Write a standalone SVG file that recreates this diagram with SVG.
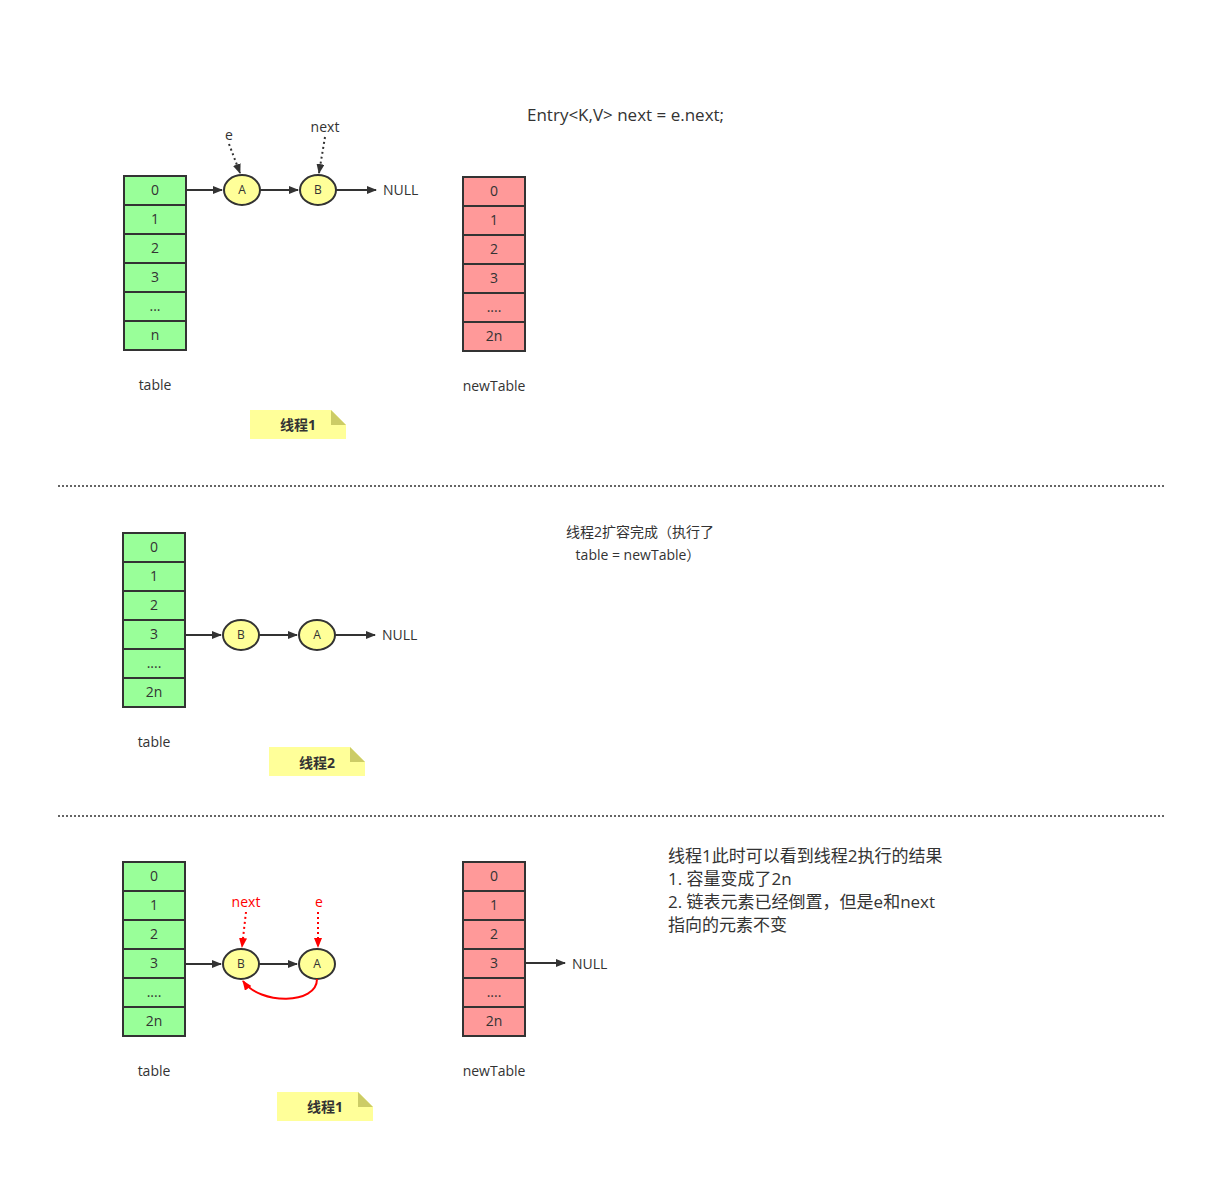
<svg xmlns="http://www.w3.org/2000/svg" width="1230" height="1184" viewBox="0 0 1230 1184">
<style>
text{font-family:"Open Sans","Noto Sans CJK SC",sans-serif;fill:#333;}
.g{fill:#99ff99;stroke:#333;stroke-width:2}
.r{fill:#ff9999;stroke:#333;stroke-width:2}
.c{font-size:14px;text-anchor:middle}
.n{fill:#ffff99;stroke:#333;stroke-width:2}
.nl{font-size:12px;text-anchor:middle}
.e{stroke:#333;stroke-width:2;fill:none;marker-end:url(#ah)}
.d{stroke:#333;stroke-width:2;stroke-dasharray:2 3;fill:none;marker-end:url(#ah)}
.dr{stroke:#f00;stroke-width:2;stroke-dasharray:2 3;fill:none;marker-end:url(#ahr)}
.sep{stroke:#333;stroke-width:1.5;stroke-dasharray:2 2}
.t{font-size:15px}
.note{fill:#ffff99}
.fold{fill:#cccc66}
.nt{font-size:14px;font-weight:bold;text-anchor:middle}
</style>
<defs>
<marker id="ah" markerWidth="10" markerHeight="8" refX="9" refY="4" orient="auto" markerUnits="userSpaceOnUse"><path d="M0,0L10,4L0,8z" fill="#333"/></marker>
<marker id="ahr" markerWidth="10" markerHeight="8" refX="9" refY="4" orient="auto" markerUnits="userSpaceOnUse"><path d="M0,0L10,4L0,8z" fill="#f00"/></marker>
</defs>
<rect width="1230" height="1184" fill="#fff"/>

<g id="table1">
<rect class="g" x="124" y="176" width="62" height="29"/><text class="c" x="155" y="195">0</text>
<rect class="g" x="124" y="205" width="62" height="29"/><text class="c" x="155" y="224">1</text>
<rect class="g" x="124" y="234" width="62" height="29"/><text class="c" x="155" y="253">2</text>
<rect class="g" x="124" y="263" width="62" height="29"/><text class="c" x="155" y="282">3</text>
<rect class="g" x="124" y="292" width="62" height="29"/><text class="c" x="155" y="311">...</text>
<rect class="g" x="124" y="321" width="62" height="29"/><text class="c" x="155" y="340">n</text>
<text class="c" x="155" y="390">table</text>
</g>
<g id="newTable1">
<rect class="r" x="463" y="177" width="62" height="29"/><text class="c" x="494" y="196">0</text>
<rect class="r" x="463" y="206" width="62" height="29"/><text class="c" x="494" y="225">1</text>
<rect class="r" x="463" y="235" width="62" height="29"/><text class="c" x="494" y="254">2</text>
<rect class="r" x="463" y="264" width="62" height="29"/><text class="c" x="494" y="283">3</text>
<rect class="r" x="463" y="293" width="62" height="29"/><text class="c" x="494" y="312">....</text>
<rect class="r" x="463" y="322" width="62" height="29"/><text class="c" x="494" y="341">2n</text>
<text class="c" x="494" y="391">newTable</text>
</g>
<g id="p1A"><ellipse class="n" cx="242" cy="190" rx="18" ry="15"/><text class="nl" x="242" y="194">A</text></g>
<g id="p1B"><ellipse class="n" cx="318" cy="190" rx="18" ry="15"/><text class="nl" x="318" y="194">B</text></g>
<text x="229" y="140" class="c" font-size="16">e</text>
<text x="325" y="132" class="c" font-size="16">next</text>
<text x="383" y="195" font-size="14">NULL</text>
<text x="527" y="121" font-size="17">Entry&lt;K,V&gt; next = e.next;</text>
<g id="note1"><path class="note" d="M250,410H331L346,425V439H250z"/><path class="fold" d="M331,410L346,425H331z"/><text class="nt" x="298" y="430">线程1</text></g>

<line class="sep" x1="58" y1="486" x2="1165" y2="486"/>

<g id="table2">
<rect class="g" x="123" y="533" width="62" height="29"/><text class="c" x="154" y="552">0</text>
<rect class="g" x="123" y="562" width="62" height="29"/><text class="c" x="154" y="581">1</text>
<rect class="g" x="123" y="591" width="62" height="29"/><text class="c" x="154" y="610">2</text>
<rect class="g" x="123" y="620" width="62" height="29"/><text class="c" x="154" y="639">3</text>
<rect class="g" x="123" y="649" width="62" height="29"/><text class="c" x="154" y="668">....</text>
<rect class="g" x="123" y="678" width="62" height="29"/><text class="c" x="154" y="697">2n</text>
<text class="c" x="154" y="747">table</text>
</g>
<g id="p2B"><ellipse class="n" cx="241" cy="635" rx="18" ry="15"/><text class="nl" x="241" y="639">B</text></g>
<g id="p2A"><ellipse class="n" cx="317" cy="635" rx="18" ry="15"/><text class="nl" x="317" y="639">A</text></g>
<text x="382" y="640" font-size="14">NULL</text>
<text x="640" y="537" class="c" font-size="17">线程2扩容完成（执行了</text>
<text x="638" y="560" class="c" font-size="17">table = newTable）</text>
<g id="note2"><path class="note" d="M269,747H350L365,762V776H269z"/><path class="fold" d="M350,747L365,762H350z"/><text class="nt" x="317" y="768">线程2</text></g>

<line class="sep" x1="58" y1="816" x2="1165" y2="816"/>

<g id="table3">
<rect class="g" x="123" y="862" width="62" height="29"/><text class="c" x="154" y="881">0</text>
<rect class="g" x="123" y="891" width="62" height="29"/><text class="c" x="154" y="910">1</text>
<rect class="g" x="123" y="920" width="62" height="29"/><text class="c" x="154" y="939">2</text>
<rect class="g" x="123" y="949" width="62" height="29"/><text class="c" x="154" y="968">3</text>
<rect class="g" x="123" y="978" width="62" height="29"/><text class="c" x="154" y="997">....</text>
<rect class="g" x="123" y="1007" width="62" height="29"/><text class="c" x="154" y="1026">2n</text>
<text class="c" x="154" y="1076">table</text>
</g>
<g id="newTable3">
<rect class="r" x="463" y="862" width="62" height="29"/><text class="c" x="494" y="881">0</text>
<rect class="r" x="463" y="891" width="62" height="29"/><text class="c" x="494" y="910">1</text>
<rect class="r" x="463" y="920" width="62" height="29"/><text class="c" x="494" y="939">2</text>
<rect class="r" x="463" y="949" width="62" height="29"/><text class="c" x="494" y="968">3</text>
<rect class="r" x="463" y="978" width="62" height="29"/><text class="c" x="494" y="997">....</text>
<rect class="r" x="463" y="1007" width="62" height="29"/><text class="c" x="494" y="1026">2n</text>
<text class="c" x="494" y="1076">newTable</text>
</g>
<g id="p3B"><ellipse class="n" cx="241" cy="964" rx="18" ry="15"/><text class="nl" x="241" y="968">B</text></g>
<g id="p3A"><ellipse class="n" cx="317" cy="964" rx="18" ry="15"/><text class="nl" x="317" y="968">A</text></g>
<text x="246" y="907" class="c" font-size="16" style="fill:#f00">next</text>
<text x="319" y="907" class="c" font-size="16" style="fill:#f00">e</text>
<text x="572" y="969" font-size="14">NULL</text>
<text x="668" y="862" font-size="17">线程1此时可以看到线程2执行的结果</text>
<text x="668" y="885" font-size="17">1.  容量变成了2n</text>
<text x="668" y="908" font-size="17">2. 链表元素已经倒置，但是e和next</text>
<text x="668" y="931" font-size="17">指向的元素不变</text>
<g id="note3"><path class="note" d="M277,1092H358L373,1107V1121H277z"/><path class="fold" d="M358,1092L373,1107H358z"/><text class="nt" x="325" y="1112">线程1</text></g>

<g id="connectors">
<path class="e" d="M186,190H222"/>
<path class="e" d="M260,190H298"/>
<path class="e" d="M336,190H376"/>
<path class="d" d="M229,144L240,173"/>
<path class="d" d="M325,137L319,173"/>
<path class="e" d="M185,635H221"/>
<path class="e" d="M259,635H297"/>
<path class="e" d="M335,635H375"/>
<path class="e" d="M185,964H221"/>
<path class="e" d="M259,964H297"/>
<path class="e" d="M525,963H565"/>
<path class="dr" d="M246,912L242,947"/>
<path class="dr" d="M318,912L318,947"/>
<path d="M317,979C317,1005 260,1005 243,981" fill="none" stroke="#f00" stroke-width="2" marker-end="url(#ahr)"/>
</g>
</svg>
